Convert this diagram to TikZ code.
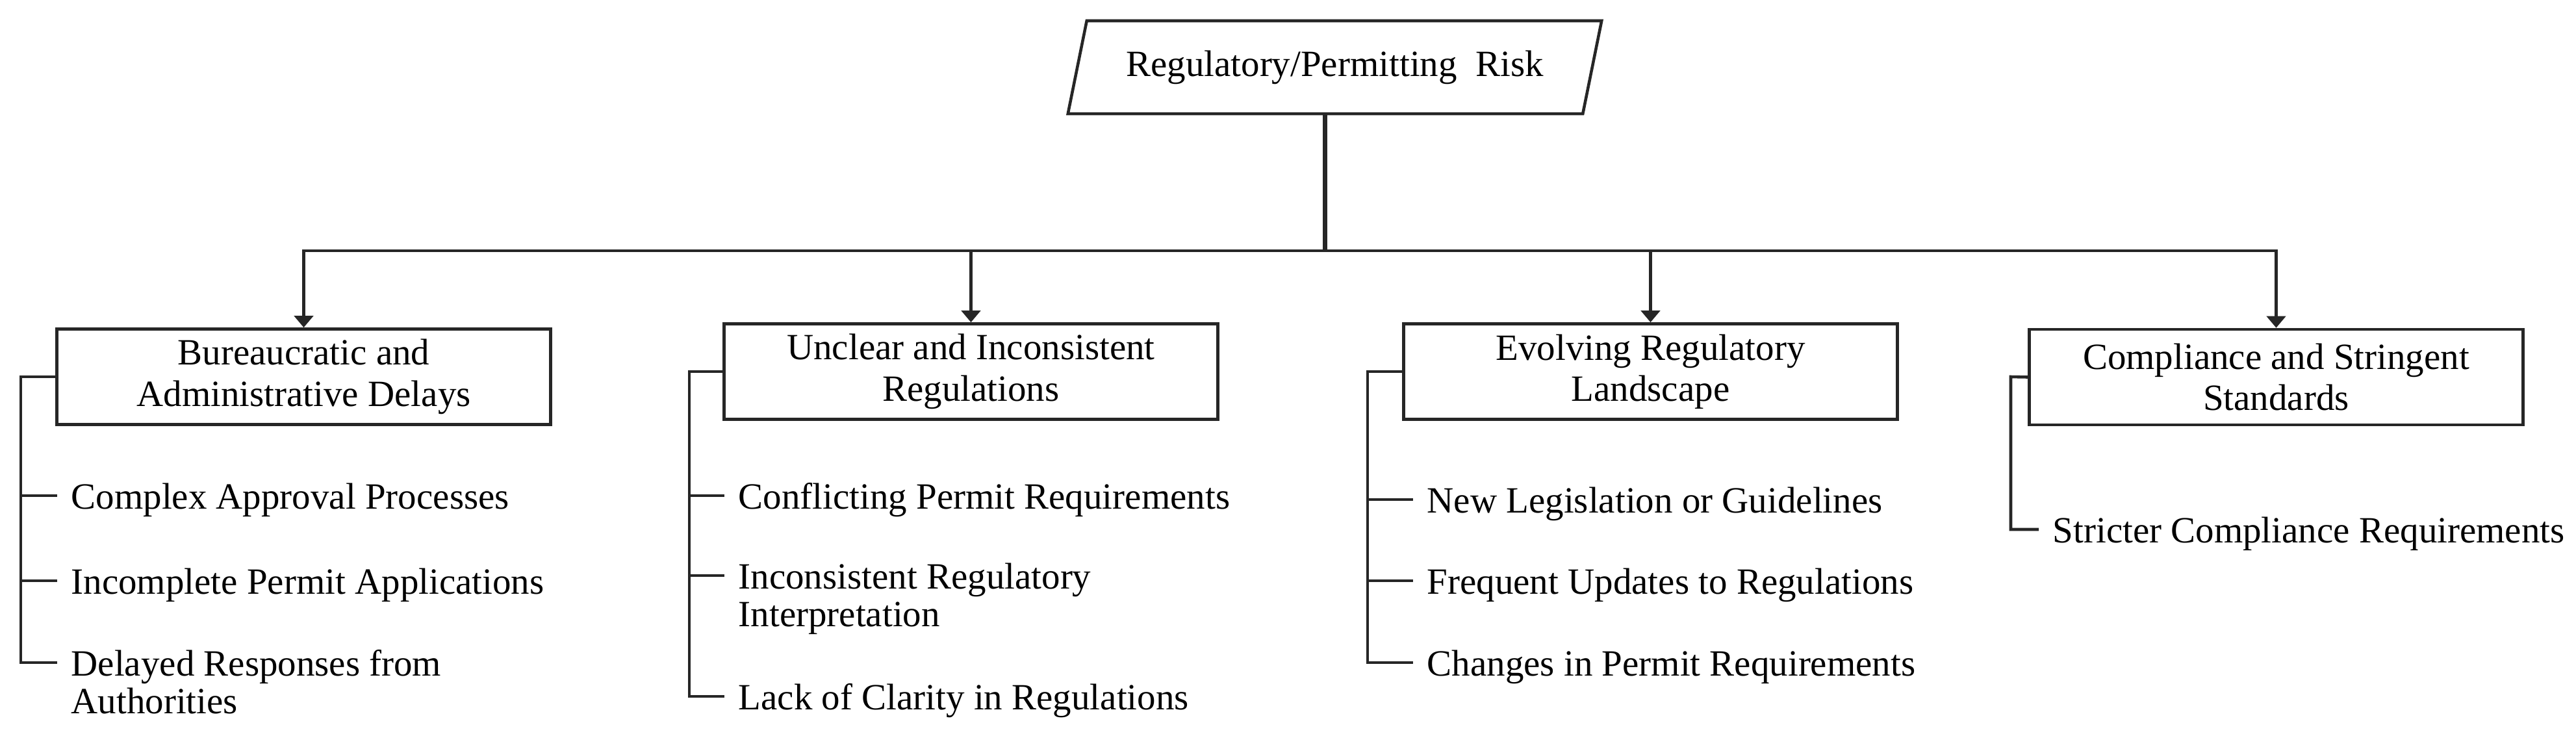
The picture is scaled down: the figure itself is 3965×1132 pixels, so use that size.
\documentclass[tikz,border=0pt]{standalone}
\usepackage{fontspec}
\setmainfont{Liberation Serif}
\usetikzlibrary{arrows.meta,shapes.geometric,calc}
\newcommand{\twoln}[2]{\begin{tabular}[t]{@{}l@{}}#1\\#2\end{tabular}}
\begin{document}
\begin{tikzpicture}[x=0.01cm, y=-0.01cm,
  conn/.style={draw=black!85, line width=1.3pt},
  arr/.style={conn, -{Triangle[width=0.29cm,length=0.18cm]}},
  box/.style={draw=black!85, line width=1.3pt, minimum width=7.6cm, minimum height=1.47cm,
    align=center, inner sep=0pt, font=\fontsize{16.2}{18}\selectfont},
  item/.style={anchor=base west, inner xsep=0.21cm, inner ysep=0pt,
    font=\fontsize{16.2}{16.5}\selectfont},
  topbox/.style={trapezium, trapezium left angle=60.8, trapezium right angle=119.2,
    trapezium stretches body, draw=black!85, line width=1.3pt,
    minimum width=8.21cm, minimum height=1.43cm, inner sep=0pt,
    font=\fontsize{16.2}{18}\selectfont}]
\useasboundingbox (0,0) rectangle (3965,1132);

% top node
\node[topbox] (top) at (2054.5,103.5) {Regulatory/Permitting~ Risk};

% category boxes
\node[box] (b1) at (467.5,580) {Bureaucratic and\\Administrative Delays};
\node[box] (b2) at (1494.5,572) {Unclear and Inconsistent\\Regulations};
\node[box] (b3) at (2540.5,572) {Evolving Regulatory\\Landscape};
\node[box] (b4) at (3503.5,580.5) {Compliance and Stringent\\Standards};

% items
\node[item] (i11) at (88,783) {Complex Approval Processes};
\node[item] (i12) at (88,914) {Incomplete Permit Applications};
\node[item] (i13) at (88,1040) {\twoln{Delayed Responses from}{Authorities}};
\node[item] (i21) at (1115,783) {Conflicting Permit Requirements};
\node[item] (i22) at (1115,906) {\twoln{Inconsistent Regulatory}{Interpretation}};
\node[item] (i23) at (1115,1092) {Lack of Clarity in Regulations};
\node[item] (i31) at (2175,789) {New Legislation or Guidelines};
\node[item] (i32) at (2175,914) {Frequent Updates to Regulations};
\node[item] (i33) at (2175,1040) {Changes in Permit Requirements};
\node[item] (i41) at (3138,835) {Stricter Compliance Requirements};

% tick end points
\foreach \n in {11,12,13,21,22,23,31,32,33,41}
  \coordinate (t\n) at ($(i\n.base west)+(0,0.2cm)$);

% stem and bus
\coordinate (stemtop) at ($(top.bottom left corner)!0.5!(top.bottom right corner)$);
\path (0,386) coordinate (busy);
\coordinate (hub) at (stemtop |- busy);
\draw[conn, line width=1.9pt] (stemtop) -- (hub);
\draw[arr] (hub) -| (b1.north);
\draw[arr] (hub) -| (b4.north);
\draw[arr] (hub -| b2.north) -- (b2.north);
\draw[arr] (hub -| b3.north) -- (b3.north);

% branch lines
\coordinate (v1) at (32,580);
\coordinate (v2) at (1061,572);
\coordinate (v3) at (2105,572);
\coordinate (v4) at (3095,580);

\draw[conn] (b1.west) -- (v1) -- (v1 |- t13) -- (t13);
\draw[conn] (v1 |- t11) -- (t11);
\draw[conn] (v1 |- t12) -- (t12);

\draw[conn] (b2.west) -- (v2) -- (v2 |- t23) -- (t23);
\draw[conn] (v2 |- t21) -- (t21);
\draw[conn] (v2 |- t22) -- (t22);

\draw[conn] (b3.west) -- (v3) -- (v3 |- t33) -- (t33);
\draw[conn] (v3 |- t31) -- (t31);
\draw[conn] (v3 |- t32) -- (t32);

\draw[conn] (b4.west) -- (v4) -- (v4 |- t41) -- (t41);
\end{tikzpicture}
\end{document}
